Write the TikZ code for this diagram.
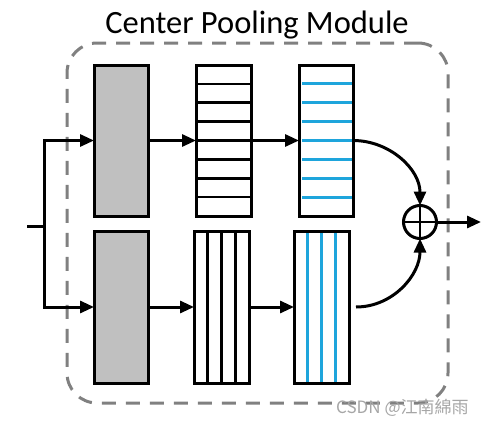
\documentclass[tikz,border=0pt]{standalone}
\usepackage{fontspec}
\setmainfont{Carlito}
\newfontfamily\cjk{Noto Sans CJK SC}
\usetikzlibrary{arrows.meta,calc}
\definecolor{poolblue}{RGB}{30,165,220}
\definecolor{boxgray}{RGB}{192,192,192}
\definecolor{dashgray}{RGB}{128,128,128}
\tikzset{
  blk/.style={draw=black,line width=3pt,inner sep=0pt,outer sep=0pt,minimum width=54pt,minimum height=151pt},
  graybox/.style={blk,fill=boxgray},
  whitebox/.style={blk,fill=white},
  inner/.style={line width=2.6pt,black},
  blueline/.style={line width=2.8pt,poolblue},
  arr/.style={line width=3pt,-{Triangle[length=14pt,width=12pt]}},
  plain/.style={line width=3pt},
  frame/.style={draw=dashgray,line width=3pt,dash pattern=on 14pt off 10pt,rounded corners=30pt,inner sep=0pt,minimum width=381pt,minimum height=360pt}
}
\begin{document}
\begin{tikzpicture}[x=1pt,y=-1pt]
\useasboundingbox (0,0) rectangle (488,426);
% module frame and title
\node[frame] (module) at (257.5,223) {};
\node[font=\fontsize{32.5}{36}\selectfont] (title) at (257,25) {Center Pooling Module};
% top row
\node[graybox] (A1) at (121,140.5) {};
\node[whitebox,minimum width=55pt] (A2) at (223.5,140.5) {};
\node[whitebox] (A3) at (326,140.5) {};
% bottom row
\node[graybox,minimum height=152pt] (B1) at (121,307) {};
\node[whitebox,minimum width=55pt,minimum height=152pt] (B2) at (221.5,307) {};
\node[whitebox,minimum width=55pt,minimum height=152pt] (B3) at (321.5,307) {};
% horizontal stripes
\foreach \k in {1,...,7}{
  \draw[inner] ($(A2.north west)!\k/8!(A2.south west)$) -- ($(A2.north east)!\k/8!(A2.south east)$);
  \draw[blueline] ($(A3.north west)!\k/8!(A3.south west)+(3,0)$) -- ($(A3.north east)!\k/8!(A3.south east)+(-1.5,0)$);
}
% vertical stripes
\foreach \k in {1,2,3}{
  \draw[inner] ($(B2.north west)!\k/4!(B2.north east)$) -- ($(B2.south west)!\k/4!(B2.south east)$);
  \draw[blueline] ($(B3.north west)!\k/4!(B3.north east)+(0,1.5)$) -- ($(B3.south west)!\k/4!(B3.south east)+(0,-1.5)$);
}
% redraw box borders on top
\foreach \n in {A2,A3,B2,B3}{
  \draw[line width=3pt] (\n.north west) rectangle (\n.south east);
}
% sum node
\node[circle,draw=black,line width=3pt,minimum size=33pt,inner sep=0pt,outer sep=0pt] (plus) at (420,222) {};
\draw[line width=2.6pt] (plus.north) -- (plus.south);
\draw[line width=2.6pt] (plus.west) -- (plus.east);
% input
\coordinate (in) at (27,226);
\coordinate (split) at (44,226);
\coordinate (out) at (481,222);
\draw[plain] (in) -- (split);
\draw[arr] (split) |- (A1.west);
\draw[arr] (split) |- (B1.west);
% row connectors
\draw[arr] (A1.east) -- (A2.west);
\draw[arr] (A2.east) -- (A3.west);
\draw[arr] (B1.east) -- (B2.west);
\draw[arr] (B2.east) -- (B3.west);
% to sum
\draw[arr] (A3.east) to[out=0,in=90] (plus.north);
\draw[arr] ([xshift=7pt]B3.east) to[out=0,in=270] (plus.south);
\draw[arr] (plus.east) -- (out);
% watermark
\node[anchor=west,text=black!35,font=\cjk\fontsize{17}{19}\selectfont,inner sep=0pt] (wm) at (336,408) {CSDN @江南綿雨};
\end{tikzpicture}
\end{document}
